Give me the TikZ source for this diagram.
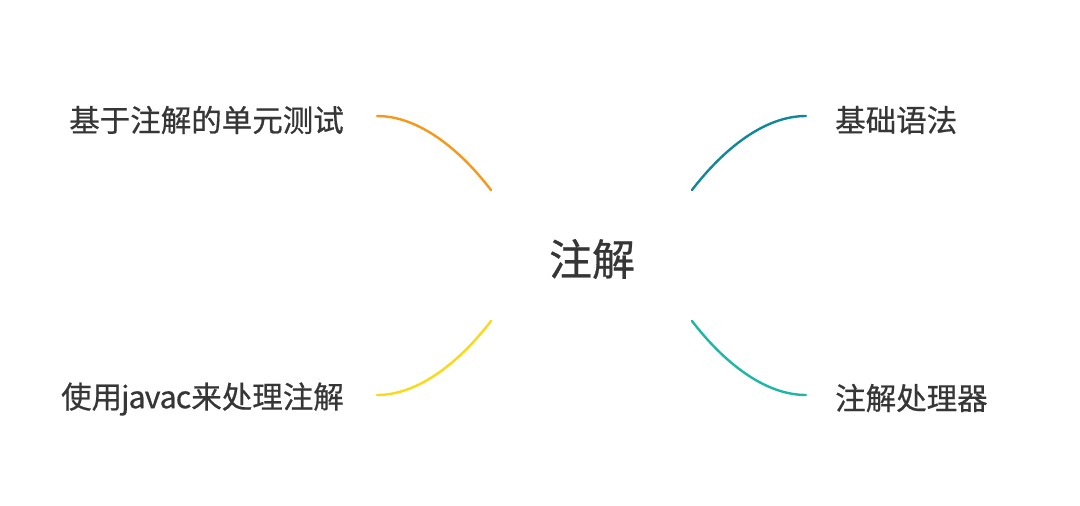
\documentclass[tikz,border=0pt]{standalone}
\usepackage{fontspec}
\setmainfont{Noto Sans CJK SC}[FakeBold=0.6]
\definecolor{txt}{HTML}{363636}
\definecolor{corange}{HTML}{F7981D}
\definecolor{cteal}{HTML}{13879A}
\definecolor{cyellow}{HTML}{FDD816}
\definecolor{cgreen}{HTML}{1DB7A3}
\begin{document}
\begin{tikzpicture}[x=1pt,y=-1pt,
  leaf/.style={text=txt,font=\fontsize{30.5}{34}\selectfont,inner sep=0pt},
  root/.style={text=txt,font=\fontsize{43}{47}\selectfont,inner sep=0pt},
  branch/.style={line width=2.4pt,line cap=round}]
\useasboundingbox (0,0) rectangle (1080,506);
\node[root] (c) at (592,259) {注解};
\node[leaf,anchor=east] (tl) at (344,120) {基于注解的单元测试};
\node[leaf,anchor=east] (bl) at (344,399) {使用\hspace{-1pt}j\hspace{-1pt}a\hspace{-1pt}v\hspace{-1pt}a\hspace{-1pt}c来处理注解};
\node[leaf,anchor=west] (tr) at (835,120) {基础语法};
\node[leaf,anchor=west] (br) at (835,398) {注解处理器};
\coordinate (tlA) at (377,116); \coordinate (tlB) at (491,190);
\coordinate (trA) at (806,116); \coordinate (trB) at (692,190);
\coordinate (blA) at (377,395); \coordinate (blB) at (491,321);
\coordinate (brA) at (806,395); \coordinate (brB) at (692,321);
\draw[branch,corange] (tlA) .. controls (420,116) and (461,151) .. (tlB);
\draw[branch,cteal] (trA) .. controls (763,116) and (722,151) .. (trB);
\draw[branch,cyellow] (blA) .. controls (420,395) and (461,360) .. (blB);
\draw[branch,cgreen] (brA) .. controls (763,395) and (722,360) .. (brB);
\end{tikzpicture}
\end{document}
